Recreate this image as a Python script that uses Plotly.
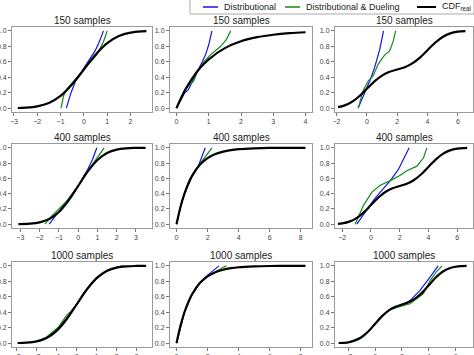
import plotly.graph_objects as go
from plotly.subplots import make_subplots

# ---------------- data ----------------
row_titles = ["150 samples", "400 samples", "1000 samples"]
legend_names = ["Distributional", "Distributional &amp; Dueling", "CDF<sub>real</sub>"]
colors = ["#1414e6", "#138a13", "#000000"]

# real CDFs, column 1 (normal), per row
c1_r1_x = [-2.83, -2.5, -2.0, -1.5, -1.0, -0.5, 0.0, 0.5, 1.0, 1.5, 2.0, 2.5, 2.68]
c1_r1_y = [0.002, 0.006, 0.023, 0.067, 0.159, 0.309, 0.5, 0.691, 0.841, 0.933, 0.977, 0.994, 0.996]
c1_r2_x = [-3.1, -2.5, -2.0, -1.5, -1.0, -0.5, 0.0, 0.5, 1.0, 1.5, 2.0, 2.5, 3.0, 3.5]
c1_r2_y = [0.001, 0.006, 0.023, 0.067, 0.159, 0.309, 0.5, 0.691, 0.841, 0.933, 0.977, 0.994, 0.999, 1.0]
c1_r3_x = [-2.95, -2.5, -2.0, -1.5, -1.0, -0.5, 0.0, 0.5, 1.0, 1.5, 2.0, 2.5, 3.0, 3.48]
c1_r3_y = [0.002, 0.006, 0.023, 0.067, 0.159, 0.309, 0.5, 0.691, 0.841, 0.933, 0.977, 0.994, 0.999, 1.0]

# real CDFs, column 2 (exponential)
c2_r1_x = [0.0, 0.25, 0.5, 0.75, 1.0, 1.5, 2.0, 2.5, 3.0, 3.5, 4.0]
c2_r1_y = [0.0, 0.221, 0.393, 0.528, 0.632, 0.777, 0.865, 0.918, 0.950, 0.970, 0.982]
c2_r23_x = [0.0, 0.25, 0.5, 0.75, 1.0, 1.5, 2.0, 2.5, 3.0, 3.5, 4.0, 5.0, 6.0, 7.0, 8.3]
c2_r23_y = [0.0, 0.221, 0.393, 0.528, 0.632, 0.777, 0.865, 0.918, 0.950, 0.970, 0.982, 0.993, 0.998, 0.999, 1.0]

# real CDFs, column 3 (bimodal)
c3_mid_x = [-1.5, -1.0, -0.5, 0.0, 0.5, 1.0, 1.5, 2.0, 2.5, 3.0, 3.5, 4.0, 4.5, 5.0, 5.5, 6.0]
c3_mid_y = [0.033, 0.079, 0.154, 0.25, 0.346, 0.421, 0.470, 0.5, 0.530, 0.579, 0.654, 0.75, 0.846, 0.921, 0.967, 0.989]
c3_r1_x = [-1.9] + c3_mid_x + [6.5]
c3_r1_y = [0.014] + c3_mid_y + [0.997]
c3_r2_x = [-2.3, -2.0] + c3_mid_x + [6.5, 6.7]
c3_r2_y = [0.005, 0.011] + c3_mid_y + [0.997, 0.998]
c3_r3_x = [-2.73, -2.0] + c3_mid_x + [6.5, 6.82]
c3_r3_y = [0.002, 0.011] + c3_mid_y + [0.997, 0.999]

# Distributional (blue)
b_r1c1_x = [-0.75, -0.55, -0.33, -0.15, 0.0, 0.25, 0.48, 0.65, 0.84]
b_r1c1_y = [0.0, 0.2, 0.37, 0.44, 0.52, 0.63, 0.74, 0.85, 1.0]
b_r1c2_x = [0.0, 0.12, 0.26, 0.37, 0.47, 0.58, 0.68, 0.8, 0.9, 1.0, 1.1]
b_r1c2_y = [0.0, 0.1, 0.2, 0.24, 0.33, 0.42, 0.5, 0.6, 0.69, 0.82, 1.0]
b_r1c3_x = [-0.57, -0.3, 0.0, 0.25, 0.52, 0.7, 0.85, 1.1]
b_r1c3_y = [0.0, 0.12, 0.25, 0.38, 0.53, 0.64, 0.76, 1.0]
b_r2c1_x = [-1.5, -1.2, -0.9, -0.5, 0.0, 0.5, 0.75, 0.97]
b_r2c1_y = [0.0, 0.1, 0.2, 0.33, 0.5, 0.72, 0.85, 1.0]
b_r2c2_x = [0.0, 0.25, 0.5, 0.75, 1.0, 1.4, 1.6, 1.85]
b_r2c2_y = [0.0, 0.22, 0.39, 0.52, 0.63, 0.76, 0.86, 1.0]
b_r2c3_x = [-0.98, -0.6, -0.28, 0.2, 0.65, 1.0, 1.35, 1.92, 2.38, 2.66]
b_r2c3_y = [0.0, 0.1, 0.2, 0.32, 0.42, 0.5, 0.57, 0.72, 0.89, 1.0]
b_r3c1_x = [-1.9, -1.5, -1.0, -0.5, 0.0, 0.5, 1.0, 1.5, 2.0, 2.3]
b_r3c1_y = [0.02, 0.07, 0.17, 0.32, 0.5, 0.69, 0.84, 0.93, 0.98, 1.0]
b_r3c2_x = [0.0, 0.25, 0.5, 1.0, 1.5, 2.0, 2.4, 2.73]
b_r3c2_y = [0.0, 0.22, 0.4, 0.63, 0.78, 0.88, 0.94, 1.0]
b_r3c3_x = [-1.8, -1.0, -0.5, 0.0, 0.5, 1.0, 1.74, 2.6, 3.33, 4.08, 4.7]
b_r3c3_y = [0.02, 0.08, 0.155, 0.25, 0.35, 0.425, 0.47, 0.55, 0.68, 0.85, 1.0]

# Distributional & Dueling (green)
g_r1c1_x = [-0.98, -0.87, -0.72, -0.4, 0.0, 0.3, 0.55, 0.84, 1.0]
g_r1c1_y = [0.0, 0.16, 0.25, 0.36, 0.5, 0.6, 0.69, 0.86, 1.0]
g_r1c2_x = [0.0, 0.13, 0.26, 0.4, 0.53, 0.68, 0.85, 1.05, 1.2, 1.37, 1.55, 1.68]
g_r1c2_y = [0.0, 0.12, 0.23, 0.3, 0.35, 0.5, 0.6, 0.69, 0.74, 0.8, 0.89, 1.0]
g_r1c3_x = [-0.57, -0.24, 0.09, 0.42, 0.75, 1.18, 1.5, 1.73, 1.9]
g_r1c3_y = [0.0, 0.23, 0.35, 0.42, 0.57, 0.69, 0.74, 0.86, 1.0]
g_r2c1_x = [-1.72, -1.4, -1.0, -0.6, 0.0, 0.5, 0.9, 1.15, 1.35]
g_r2c1_y = [0.0, 0.1, 0.2, 0.3, 0.5, 0.7, 0.84, 0.93, 1.0]
g_r2c2_x = [0.0, 0.25, 0.5, 1.0, 1.4, 1.8, 2.28]
g_r2c2_y = [0.0, 0.22, 0.39, 0.63, 0.76, 0.87, 1.0]
g_r2c3_x = [-1.1, -0.51, 0.07, 0.65, 1.35, 2.04, 2.5, 3.2, 3.66, 3.89]
g_r2c3_y = [0.0, 0.25, 0.42, 0.51, 0.57, 0.64, 0.7, 0.76, 0.87, 1.0]
g_r3c1_x = [-2.0, -1.5, -0.9, -0.5, -0.25, 0.0, 0.5, 1.0, 1.5, 2.0, 2.4]
g_r3c1_y = [0.02, 0.08, 0.21, 0.36, 0.42, 0.5, 0.69, 0.84, 0.93, 0.98, 1.0]
g_r3c2_x = [0.0, 0.5, 1.0, 1.5, 2.0, 2.5, 2.9, 3.2]
g_r3c2_y = [0.0, 0.39, 0.63, 0.78, 0.87, 0.92, 0.96, 1.0]
g_r3c3_x = [-1.9, -1.0, -0.5, 0.0, 0.5, 1.0, 1.74, 2.6, 3.6, 4.1, 4.6, 5.0]
g_r3c3_y = [0.02, 0.08, 0.155, 0.25, 0.35, 0.425, 0.47, 0.51, 0.64, 0.81, 0.93, 1.0]

# axis ranges & ticks
x_ranges = [[[-3.08, 2.92], [-0.2, 4.2], [-2.1, 7.0]],
            [[-3.43, 3.83], [-0.42, 8.72], [-2.5, 7.1]],
            [[-3.23, 3.77], [-0.42, 8.72], [-3.0, 7.3]]]
x_ticks = [[[-3, -2, -1, 0, 1, 2], [0, 1, 2, 3, 4], [-2, 0, 2, 4, 6]],
           [[-3, -2, -1, 0, 1, 2, 3], [0, 2, 4, 6, 8], [-2, 0, 2, 4, 6]],
           [[-3, -2, -1, 0, 1, 2, 3], [0, 2, 4, 6, 8], [-2, 0, 2, 4, 6]]]
y_ticks = [0.0, 0.2, 0.4, 0.6, 0.8, 1.0]
y_ticktext = ["0.0", "0.2", "0.4", "0.6", "0.8", "1.0"]

real = [[(c1_r1_x, c1_r1_y), (c2_r1_x, c2_r1_y), (c3_r1_x, c3_r1_y)],
        [(c1_r2_x, c1_r2_y), (c2_r23_x, c2_r23_y), (c3_r2_x, c3_r2_y)],
        [(c1_r3_x, c1_r3_y), (c2_r23_x, c2_r23_y), (c3_r3_x, c3_r3_y)]]
blue = [[(b_r1c1_x, b_r1c1_y), (b_r1c2_x, b_r1c2_y), (b_r1c3_x, b_r1c3_y)],
        [(b_r2c1_x, b_r2c1_y), (b_r2c2_x, b_r2c2_y), (b_r2c3_x, b_r2c3_y)],
        [(b_r3c1_x, b_r3c1_y), (b_r3c2_x, b_r3c2_y), (b_r3c3_x, b_r3c3_y)]]
green = [[(g_r1c1_x, g_r1c1_y), (g_r1c2_x, g_r1c2_y), (g_r1c3_x, g_r1c3_y)],
         [(g_r2c1_x, g_r2c1_y), (g_r2c2_x, g_r2c2_y), (g_r2c3_x, g_r2c3_y)],
         [(g_r3c1_x, g_r3c1_y), (g_r3c2_x, g_r3c2_y), (g_r3c3_x, g_r3c3_y)]]

# ---------------- layout geometry ----------------
W, H = 474, 355
col_px = [(12, 152), (170, 312), (335, 473)]
row_px = [(27, 112), (144, 228), (262, 347)]

fig = make_subplots(rows=3, cols=3)

for r in range(3):
    for c in range(3):
        for (sx, sy), name, col, wdt, shp in (
                (blue[r][c], legend_names[0], colors[0], 1.2, "linear"),
                (green[r][c], legend_names[1], colors[1], 1.2, "linear"),
                (real[r][c], legend_names[2], colors[2], 2.2, "spline")):
            fig.add_trace(go.Scatter(x=sx, y=sy, mode="lines", name=name,
                                     line=dict(color=col, width=wdt, shape=shp),
                                     showlegend=False), row=r + 1, col=c + 1)

annotations = []
for r in range(3):
    for c in range(3):
        idx = r * 3 + c + 1
        xa = "xaxis" if idx == 1 else f"xaxis{idx}"
        ya = "yaxis" if idx == 1 else f"yaxis{idx}"
        x0, x1 = col_px[c]
        y0, y1 = row_px[r]
        common = dict(showline=True, mirror=True, linecolor="#9a9a9a", linewidth=1,
                      ticks="outside", ticklen=3, tickcolor="#777", tickwidth=1,
                      tickfont=dict(size=7, color="#444"), showgrid=False,
                      zeroline=False, automargin=False)
        fig.layout[xa].update(domain=[x0 / W, x1 / W], range=x_ranges[r][c],
                              tickvals=x_ticks[r][c], **common)
        fig.layout[ya].update(domain=[1 - y1 / H, 1 - y0 / H], range=[-0.05, 1.05],
                              tickvals=y_ticks, ticktext=y_ticktext, **common)
        annotations.append(dict(text=row_titles[r], xref="paper", yref="paper",
                                x=(x0 + x1) / 2 / W, y=1 - y0 / H, xanchor="center",
                                yanchor="bottom", yshift=-1, showarrow=False,
                                font=dict(size=10, color="#222")))

# legend (drawn as a framed box of line samples + labels at the top right)
leg_box = (190, 0, 474, 14)
leg_items = [(203, 218, 222), (285, 300, 304), (417, 436, 440)]
shapes = [dict(type="rect", xref="paper", yref="paper",
               x0=leg_box[0] / W, x1=leg_box[2] / W,
               y0=1 - leg_box[3] / H, y1=1 - leg_box[1] / H + 0.01,
               line=dict(color="#aaaaaa", width=1), fillcolor="white", layer="above")]
for (lx0, lx1, tx), name, col in zip(leg_items, legend_names, colors):
    shapes.append(dict(type="line", xref="paper", yref="paper",
                       x0=lx0 / W, x1=lx1 / W, y0=1 - 7 / H, y1=1 - 7 / H,
                       line=dict(color=col, width=2 if col == "#000000" else 1.5),
                       layer="above"))
    annotations.append(dict(text=name, xref="paper", yref="paper", x=tx / W,
                            y=1 - 7 / H, xanchor="left", yanchor="middle",
                            showarrow=False, font=dict(size=9, color="#222")))

fig.update_layout(
    width=W, height=H, margin=dict(l=0, r=0, t=0, b=0),
    paper_bgcolor="white", plot_bgcolor="white",
    font=dict(family="Liberation Sans, Arial, sans-serif"),
    annotations=annotations, shapes=shapes, showlegend=False,
)

fig.write_html("out.html", config={"displayModeBar": False},
               post_script="document.body.style.margin='0';document.body.style.overflow='hidden';")
